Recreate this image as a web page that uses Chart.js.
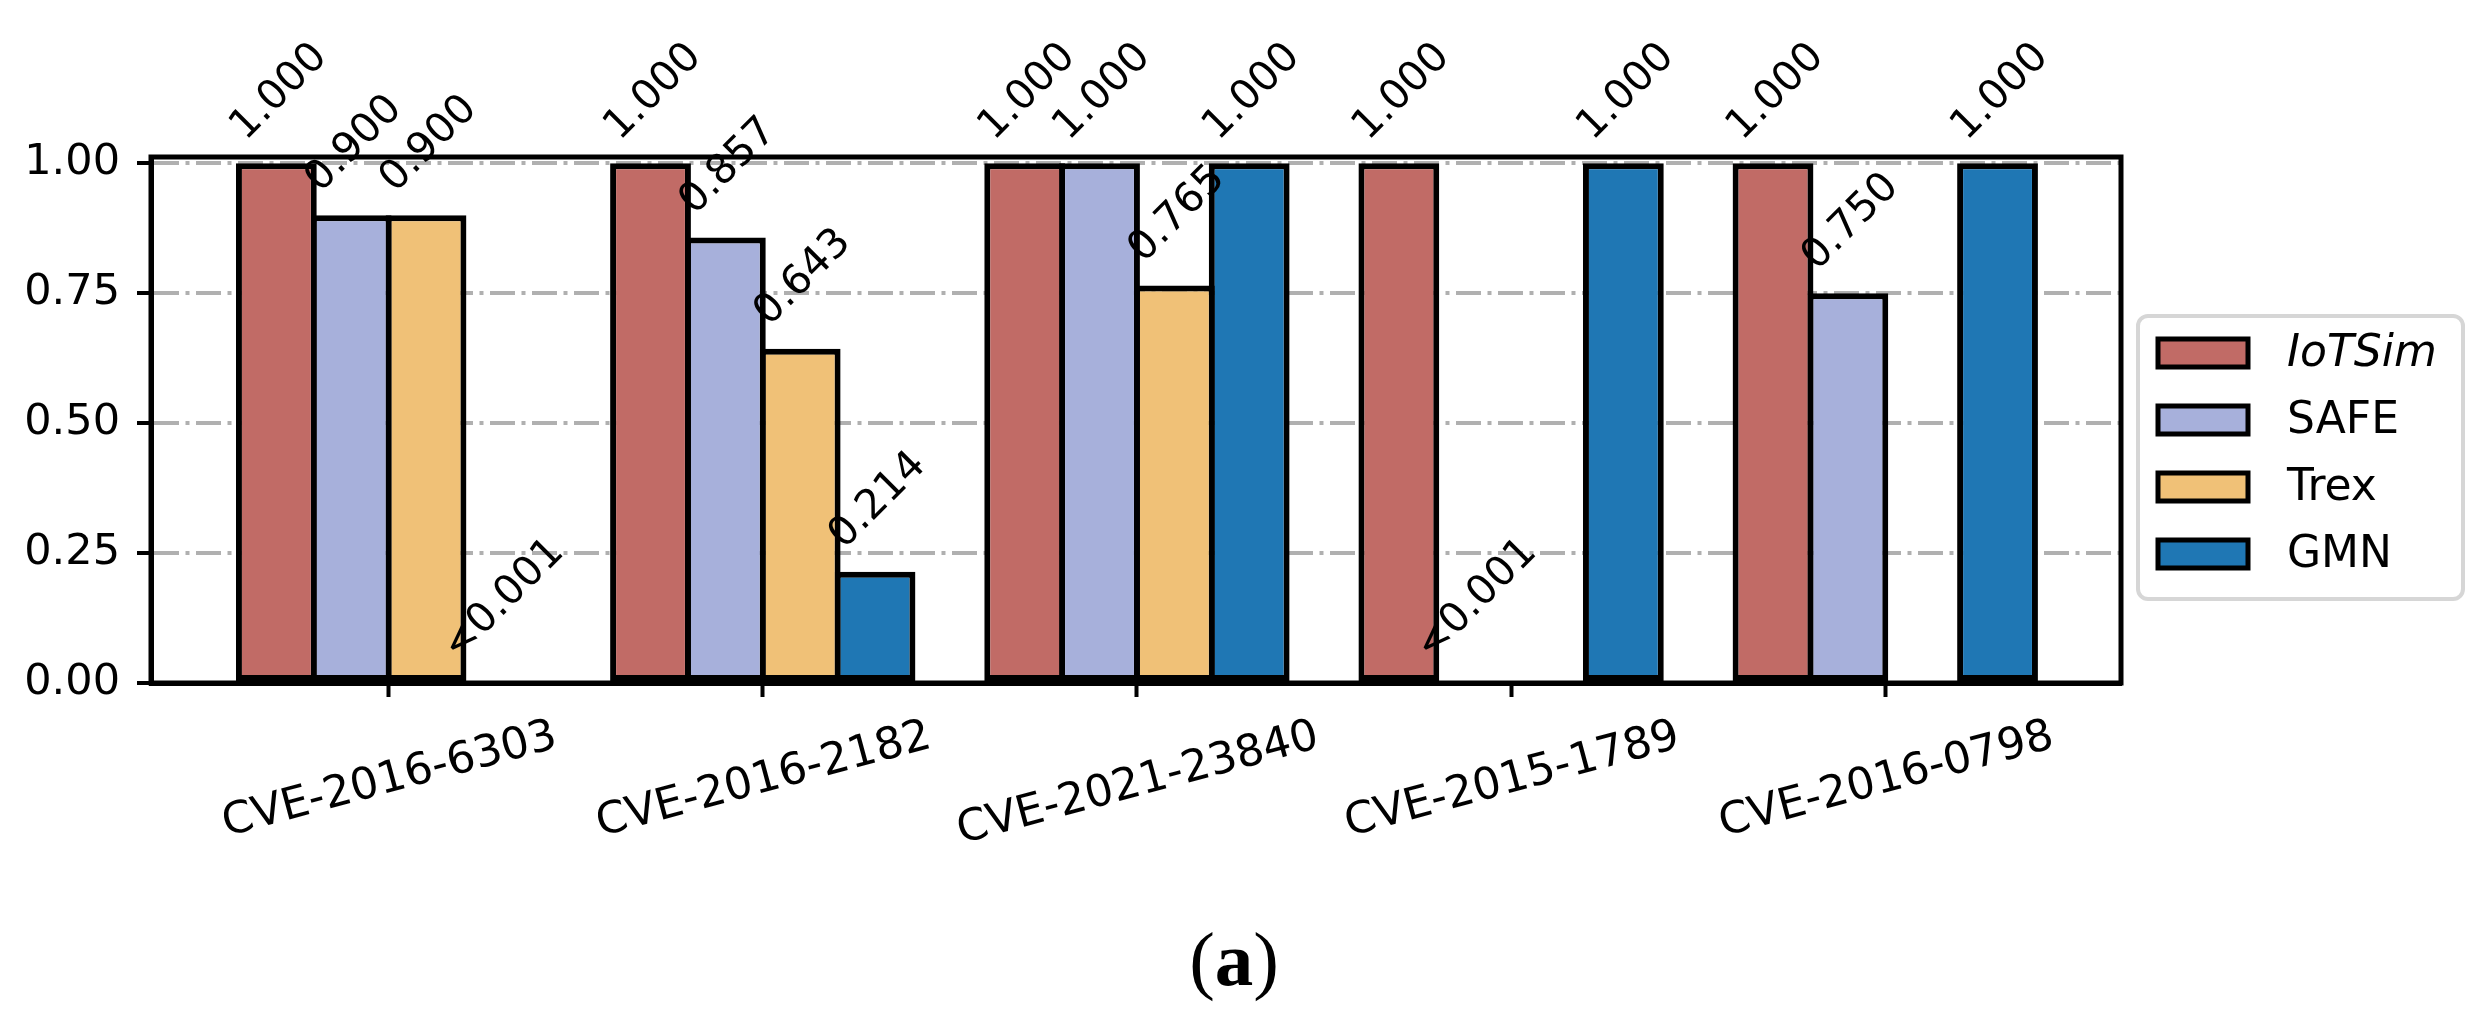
<!DOCTYPE html>
<html>
<head>
<meta charset="utf-8">
<script src="https://cdn.jsdelivr.net/npm/chart.js@4.4.1/dist/chart.umd.min.js"></script>
<style>
  html, body { margin: 0; padding: 0; background: #fff; }
  canvas { display: block; }
</style>
</head>
<body>
<canvas id="chart" width="2490" height="1018"></canvas>
<script>
// Values (<0.001 kept as a tiny value)
const categories = ['CVE-2016-6303', 'CVE-2016-2182', 'CVE-2021-23840', 'CVE-2015-1789', 'CVE-2016-0798'];
const iotsim = [1.000, 1.000, 1.000, 1.000, 1.000];
const safe   = [0.900, 0.857, 1.000, 0.0005, 0.750];
const trex   = [0.900, 0.643, 0.765, null, null];
const gmn    = [0.0005, 0.214, 1.000, 1.000, 1.000];
const yTicks = [0, 0.25, 0.5, 0.75, 1.0];

const seriesNames = ['IoTSim', 'SAFE', 'Trex', 'GMN'];
const seriesValues = [iotsim, safe, trex, gmn];
const seriesColors = ['#c16b66', '#a7b0db', '#f0c177', '#1f77b4'];
const italicLabels = ['IoTSim'];

const FONT = '"DejaVu Sans", sans-serif';

// Box around the plot area
const framePlugin = {
  id: 'frame',
  afterDraw(chart) {
    const { ctx, chartArea: a } = chart;
    ctx.save();
    ctx.strokeStyle = '#000';
    ctx.lineWidth = 5;
    ctx.strokeRect(a.left, a.top, a.right - a.left, a.bottom - a.top);
    ctx.restore();
  }
};

// Rotated text whose bounding box is centred on (cx, cy)
function rotatedText(ctx, text, cx, cy, deg, capH) {
  ctx.save();
  ctx.translate(cx, cy);
  ctx.rotate(-deg * Math.PI / 180);
  ctx.textAlign = 'center';
  ctx.textBaseline = 'alphabetic';
  ctx.fillText(text, 0, capH / 2);
  ctx.restore();
}

// Value labels above each bar, rotated 45 degrees
const valueLabels = {
  id: 'valueLabels',
  afterDraw(chart) {
    const ctx = chart.ctx;
    const size = 41;
    const capH = size * 0.73;
    ctx.save();
    ctx.font = size + 'px ' + FONT;
    ctx.fillStyle = '#000';
    chart.data.datasets.forEach((ds, di) => {
      chart.getDatasetMeta(di).data.forEach((bar, i) => {
        const v = ds.data[i].y;
        if (v === null) return;
        const text = v < 0.001 ? '<0.001' : v.toFixed(3);
        const s = (ctx.measureText(text).width + capH) * Math.SQRT1_2;
        rotatedText(ctx, text, bar.x, bar.y - 22 - s / 2, 45, capH);
      });
    });
    ctx.restore();
  }
};

// Category labels under the x ticks, rotated 15 degrees, centred on the tick
const xLabels = {
  id: 'xLabels',
  afterDraw(chart) {
    const ctx = chart.ctx;
    const xs = chart.scales.x;
    const size = 44;
    const capH = size * 0.73;
    const t = 15 * Math.PI / 180;
    ctx.save();
    ctx.font = size + 'px ' + FONT;
    ctx.fillStyle = '#000';
    categories.forEach((c, i) => {
      const L = ctx.measureText(c).width;
      const H = L * Math.sin(t) + capH * Math.cos(t);
      rotatedText(ctx, c, xs.getPixelForValue(i), xs.top + 33 + H / 2, 15, capH);
    });
    ctx.restore();
  }
};

// Legend in a rounded box on the right
const boxLegend = {
  id: 'boxLegend',
  afterDraw(chart) {
    const { ctx, chartArea: a } = chart;
    const left = a.right + 17, top = a.top + 159, w = 325, h = 283, r = 10;
    ctx.save();
    ctx.beginPath();
    ctx.moveTo(left + r, top);
    ctx.arcTo(left + w, top, left + w, top + h, r);
    ctx.arcTo(left + w, top + h, left, top + h, r);
    ctx.arcTo(left, top + h, left, top, r);
    ctx.arcTo(left, top, left + w, top, r);
    ctx.closePath();
    ctx.fillStyle = 'rgba(255,255,255,0.8)';
    ctx.fill();
    ctx.strokeStyle = '#d6d6d6';
    ctx.lineWidth = 4;
    ctx.stroke();
    chart.data.datasets.forEach((ds, i) => {
      const cy = top + 37 + i * 67;
      ctx.fillStyle = ds.backgroundColor;
      ctx.fillRect(left + 20, cy - 14, 90, 28);
      ctx.strokeStyle = '#000';
      ctx.lineWidth = 5;
      ctx.strokeRect(left + 20, cy - 14, 90, 28);
      ctx.font = (italicLabels.includes(ds.label) ? 'italic ' : '') + '44px ' + FONT;
      ctx.fillStyle = '#000';
      ctx.textAlign = 'left';
      ctx.textBaseline = 'middle';
      ctx.fillText(ds.label, left + 149, cy + 2);
    });
    ctx.restore();
  }
};

// Sub-figure caption "(a)"
const caption = {
  id: 'caption',
  afterDraw(chart) {
    const ctx = chart.ctx;
    const regular = '77px "Liberation Serif", serif';
    const bold = 'bold 77px "Liberation Serif", serif';
    ctx.save();
    ctx.fillStyle = '#000';
    ctx.textBaseline = 'alphabetic';
    ctx.textAlign = 'left';
    ctx.font = regular;
    const wp = ctx.measureText('(').width, wq = ctx.measureText(')').width;
    ctx.font = bold;
    const wa = ctx.measureText('a').width;
    let x = chart.width * 0.4956 - (wp + wa + wq) / 2;
    const y = 985;
    ctx.font = regular; ctx.fillText('(', x, y); x += wp;
    ctx.font = bold; ctx.fillText('a', x, y); x += wa;
    ctx.font = regular; ctx.fillText(')', x, y);
    ctx.restore();
  }
};

const ctx = document.getElementById('chart').getContext('2d');
new Chart(ctx, {
  type: 'bar',
  data: {
    datasets: seriesNames.map((name, k) => ({
      label: name,
      data: seriesValues[k].map((v, i) => ({ x: i, y: v })),
      backgroundColor: seriesColors[k],
      borderColor: '#000',
      borderWidth: 6,
      borderSkipped: false,
      categoryPercentage: 0.8,
      barPercentage: 1.08   // bars overlap by one edge width, like centred edges
    }))
  },
  options: {
    responsive: false,
    animation: false,
    devicePixelRatio: 1,
    layout: { padding: { top: 157, right: 369, left: 0, bottom: 0 } },
    plugins: {
      legend: { display: false },
      tooltip: { enabled: false }
    },
    scales: {
      x: {
        type: 'linear',
        offset: false,
        min: -0.635,
        max: 4.63,
        afterBuildTicks: s => { s.ticks = categories.map((c, i) => ({ value: i })); },
        afterFit: s => { s.height = 335; },
        ticks: { display: false, autoSkip: false },
        grid: { offset: false, drawOnChartArea: false, drawTicks: true, tickLength: 14, tickWidth: 4, tickColor: '#000' },
        border: { color: '#000', width: 5 }
      },
      y: {
        min: 0,
        max: 1.012,
        z: 1,
        afterBuildTicks: s => { s.ticks = yTicks.map(v => ({ value: v })); },
        afterFit: s => { s.width = 151; },
        ticks: {
          callback: v => v.toFixed(2),
          padding: 17,
          color: '#000',
          font: { family: FONT, size: 43 }
        },
        grid: {
          color: c => (c.tick && c.tick.value === 0) ? 'rgba(0,0,0,0)' : '#b0b0b0',
          lineWidth: 4,
          tickLength: 14,
          tickWidth: 4,
          tickColor: '#000',
          tickBorderDash: []
        },
        border: { color: '#000', width: 5, dash: [25, 6.5, 4, 6.5] }
      }
    }
  },
  plugins: [framePlugin, valueLabels, xLabels, boxLegend, caption]
});
</script>
</body>
</html>
